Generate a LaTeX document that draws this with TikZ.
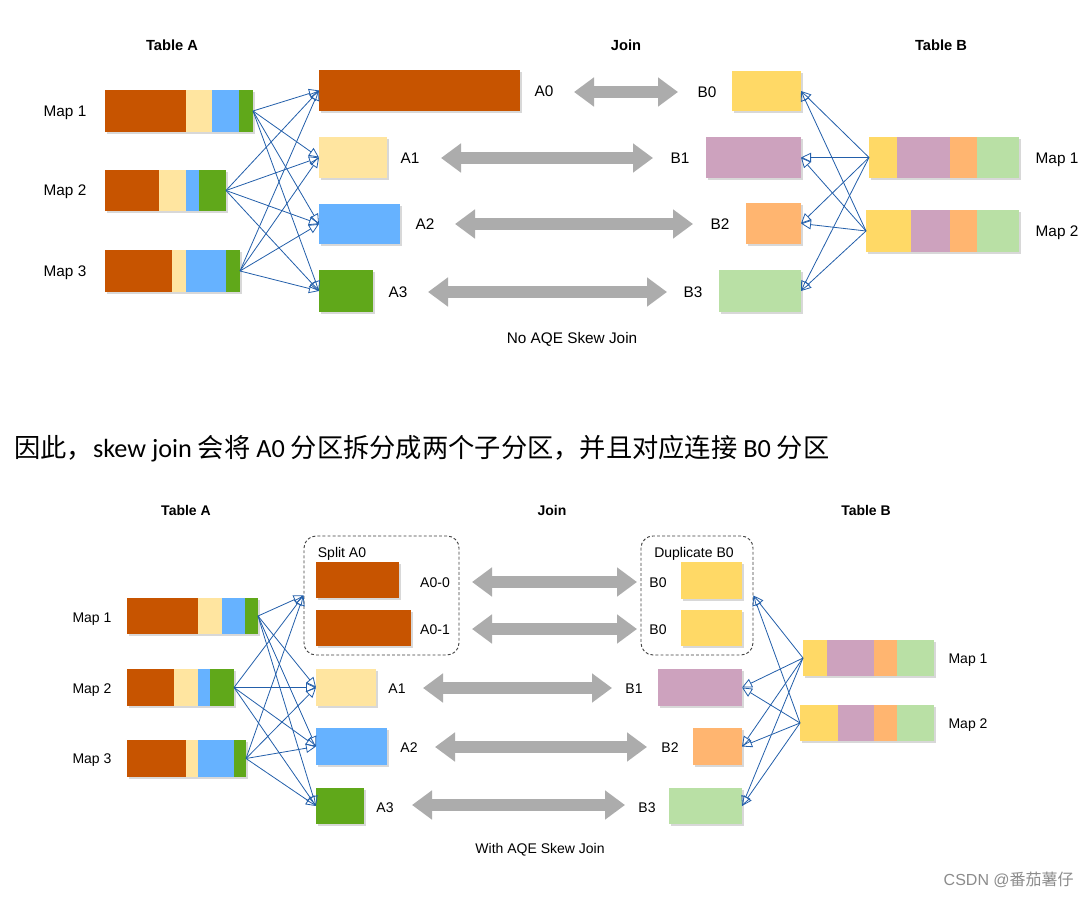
\documentclass[tikz,border=0pt]{standalone}
\usepackage{fontspec}
\setmainfont{Liberation Sans}
\newfontfamily\cjk{Noto Sans CJK SC}
\newfontfamily\lat{Carlito}
\usetikzlibrary{fit,shadows,arrows.meta}
\definecolor{aor}{RGB}{199,84,0}
\definecolor{ayl}{RGB}{255,229,160}
\definecolor{abl}{RGB}{102,178,255}
\definecolor{agr}{RGB}{96,168,26}
\definecolor{byl}{RGB}{255,217,102}
\definecolor{bpu}{RGB}{205,162,190}
\definecolor{bor}{RGB}{255,181,112}
\definecolor{bgr}{RGB}{185,224,165}
\definecolor{lnk}{RGB}{35,95,170}
\definecolor{garr}{RGB}{172,172,172}
\newcommand{\rbox}[6]{\node[part, fill=#6, fit={(#2,#3) (#4,#5)}] (#1) {};}
\newcommand{\segbar}[9]{%
  \node[part, fill=white, fit={(#2,#3) (#9,#4)}] (#1) {};
  \fill[\cA] (#2,#3) rectangle (#5,#4);
  \fill[\cB] (#5,#3) rectangle (#6,#4);
  \fill[\cC] (#6,#3) rectangle (#7,#4);
  \fill[\cD] (#7,#3) rectangle (#9,#4);}
\tikzset{
  part/.style={inner sep=0pt, outer sep=0pt, draw=none,
    drop shadow={shadow xshift=1.2pt, shadow yshift=-1.2pt, opacity=0.25, fill=black!60}},
  lbl/.style={inner sep=1pt, text height=8.2pt, text depth=0pt, font=\fontsize{11.5}{13}\selectfont},
  lbls/.style={inner sep=1pt, text height=7.5pt, text depth=0pt, font=\fontsize{10.5}{12}\selectfont},
  ttl/.style={inner sep=1pt, text height=7.9pt, text depth=0pt, font=\fontsize{11}{13}\selectfont\bfseries},
  ttls/.style={inner sep=1pt, text height=7.5pt, text depth=0pt, font=\fontsize{10.5}{12}\selectfont\bfseries},
  link/.style={draw=lnk, line width=0.6pt, -{Triangle[open, length=7.5pt, width=7pt]}},
  garrow/.style={draw=garr, line width=9pt,
    {Triangle[length=15pt, width=21pt]}-{Triangle[length=15pt, width=21pt]}},
  grp/.style={draw=black!75, line width=0.7pt, dash pattern=on 2.2pt off 1.6pt, rounded corners=9pt}
}
\begin{document}
\begin{tikzpicture}[x=0.75pt, y=-0.75pt]
\useasboundingbox[fill=white] (0,0) rectangle (1091,898);

% ================= TOP =================
\node[ttl] (tTA) at (172,45) {Table A};
\node[ttl] (tJ) at (626,45) {Join};
\node[ttl] (tTB) at (941,45) {Table B};

\node[lbl] (tm1) at (65,111) {Map 1};
\node[lbl] (tm2) at (65,190) {Map 2};
\node[lbl] (tm3) at (65,271) {Map 3};

\def\cA{aor}\def\cB{ayl}\def\cC{abl}\def\cD{agr}
\segbar{tA1}{105}{90}{132}{186}{212}{239}{}{253}
\segbar{tA2}{105}{170}{211}{159}{186}{199}{}{226}
\segbar{tA3}{105}{250}{292}{172}{186}{226}{}{240}

\rbox{A0}{319}{70}{520}{111}{aor}
\rbox{A1}{319}{137}{387}{178}{ayl}
\rbox{A2}{319}{204}{400}{244}{abl}
\rbox{A3}{319}{270}{373}{312}{agr}

\rbox{B0}{732}{71}{801}{111}{byl}
\rbox{B1}{706}{137}{801}{178}{bpu}
\rbox{B2}{746}{203}{801}{244}{bor}
\rbox{B3}{719}{270}{801}{312}{bgr}

\def\cA{byl}\def\cB{bpu}\def\cC{bor}\def\cD{bgr}
\segbar{tB1}{869}{137}{178}{897}{950}{977}{}{1019}
\segbar{tB2}{866}{210}{252}{911}{950}{977}{}{1019}

\node[lbl] (tbm1) at (1057,158) {Map 1};
\node[lbl] (tbm2) at (1057,231) {Map 2};

\node[lbl] (lA0) at (544,91) {A0};
\node[lbl] (lA1) at (410,158) {A1};
\node[lbl] (lA2) at (425,224) {A2};
\node[lbl] (lA3) at (398,292) {A3};
\node[lbl] (lB0) at (707,92) {B0};
\node[lbl] (lB1) at (680,158) {B1};
\node[lbl] (lB2) at (720,224) {B2};
\node[lbl] (lB3) at (693,292) {B3};

\coordinate (g0l) at (574,92);  \coordinate (g0r) at (678,92);
\coordinate (g1l) at (441,158); \coordinate (g1r) at (653,158);
\coordinate (g2l) at (455,224); \coordinate (g2r) at (693,224);
\coordinate (g3l) at (428,292); \coordinate (g3r) at (667,292);
\draw[garrow] (g0l) -- (g0r);
\draw[garrow] (g1l) -- (g1r);
\draw[garrow] (g2l) -- (g2r);
\draw[garrow] (g3l) -- (g3r);

\foreach \s in {tA1,tA2,tA3}{
  \foreach \t in {A0,A1,A2,A3}{
    \draw[link] (\s.east) -- (\t.west);
  }
}
\foreach \s in {tB1,tB2}{
  \foreach \t in {B0,B1,B2,B3}{
    \draw[link] (\s.west) -- (\t.east);
  }
}

\node[lbl] (tcap) at (572,338) {No AQE Skew Join};

% ================= TEXT LINE =================
\node[anchor=west, inner sep=0pt, font=\fontsize{19.7}{24}\selectfont] (zh) at (14,449)
  {{\cjk 因此，}{\lat skew join }{\cjk 会将}{\lat\ A0 }{\cjk 分区拆分成两个子分区，并且对应连接}{\lat\ B0 }{\cjk 分区}};

% ================= BOTTOM =================
\node[ttls] (bTA) at (186,510) {Table A};
\node[ttls] (bJ) at (552,510) {Join};
\node[ttls] (bTB) at (866,510) {Table B};

\node[lbls] (bm1) at (92,617) {Map 1};
\node[lbls] (bm2) at (92,688) {Map 2};
\node[lbls] (bm3) at (92,758) {Map 3};

\def\cA{aor}\def\cB{ayl}\def\cC{abl}\def\cD{agr}
\segbar{bA1}{127}{598}{634}{198}{222}{245}{}{258}
\segbar{bA2}{127}{669}{706}{174}{198}{210}{}{234}
\segbar{bA3}{127}{740}{777}{186}{198}{234}{}{246}

\node[grp, inner sep=0pt, fit={(304,536) (459,655)}] (split) {};
\node[lbls] (lsplit) at (342,552) {Split A0};
\rbox{A00}{316}{562}{399}{598}{aor}
\rbox{A01}{316}{610}{411}{646}{aor}
\rbox{bA1p}{316}{669}{376}{706}{ayl}
\rbox{bA2p}{316}{728}{387}{765}{abl}
\rbox{bA3p}{316}{788}{364}{824}{agr}
\node[lbls] (lA00) at (435,582) {A0-0};
\node[lbls] (lA01) at (435,629) {A0-1};
\node[lbls] (lbA1) at (397,688) {A1};
\node[lbls] (lbA2) at (409,747) {A2};
\node[lbls] (lbA3) at (385,807) {A3};

\node[grp, inner sep=0pt, fit={(641,536) (753,655)}] (dup) {};
\node[lbls] (ldup) at (694,552) {Duplicate B0};
\rbox{B0a}{681}{562}{742}{599}{byl}
\rbox{B0b}{681}{610}{742}{646}{byl}
\rbox{bB1p}{658}{669}{742}{706}{bpu}
\rbox{bB2p}{693}{728}{742}{765}{bor}
\rbox{bB3p}{669}{788}{742}{824}{bgr}
\node[lbls] (lB0a) at (658,582) {B0};
\node[lbls] (lB0b) at (658,629) {B0};
\node[lbls] (lbB1) at (634,688) {B1};
\node[lbls] (lbB2) at (670,747) {B2};
\node[lbls] (lbB3) at (647,807) {B3};

\def\cA{byl}\def\cB{bpu}\def\cC{bor}\def\cD{bgr}
\segbar{bB1}{803}{640}{676}{827}{874}{897}{}{934}
\segbar{bB2}{800}{705}{741}{838}{874}{897}{}{934}
\node[lbls] (bbm1) at (968,658) {Map 1};
\node[lbls] (bbm2) at (968,723) {Map 2};

\coordinate (h0l) at (472,582); \coordinate (h0r) at (637,582);
\coordinate (h1l) at (472,629); \coordinate (h1r) at (637,629);
\coordinate (h2l) at (423,688); \coordinate (h2r) at (612,688);
\coordinate (h3l) at (435,747); \coordinate (h3r) at (647,747);
\coordinate (h4l) at (412,805); \coordinate (h4r) at (625,805);
\draw[garrow] (h0l) -- (h0r);
\draw[garrow] (h1l) -- (h1r);
\draw[garrow] (h2l) -- (h2r);
\draw[garrow] (h3l) -- (h3r);
\draw[garrow] (h4l) -- (h4r);

\foreach \s in {bA1,bA2,bA3}{
  \foreach \t in {split,bA1p,bA2p,bA3p}{
    \draw[link] (\s.east) -- (\t.west);
  }
}
\foreach \s in {bB1,bB2}{
  \foreach \t in {dup,bB1p,bB2p,bB3p}{
    \draw[link] (\s.west) -- (\t.east);
  }
}

\node[lbls] (bcap) at (540,848) {With AQE Skew Join};

\node[anchor=east, inner sep=0pt, text=black!45, font=\fontsize{12}{14}\selectfont] (wm) at (1074,880)
  {CSDN @{\cjk 番茄薯仔}};
\end{tikzpicture}
\end{document}
